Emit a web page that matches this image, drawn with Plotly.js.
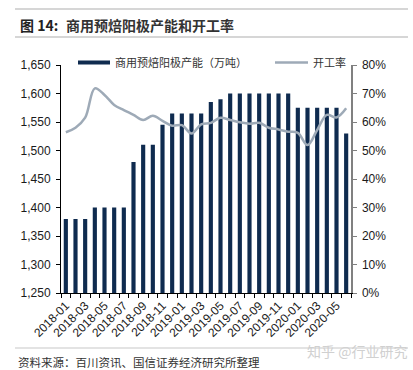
<!DOCTYPE html>
<html>
<head>
<meta charset="utf-8">
<script src="https://cdn.plot.ly/plotly-3.0.1.min.js"></script>
<style>
html,body{margin:0;padding:0;background:#fff;}
#chart{width:413px;height:370px;}
</style>
</head>
<body>
<div id="chart"></div>
<script>
const months = ["2018-01","2018-02","2018-03","2018-04","2018-05","2018-06","2018-07","2018-08","2018-09","2018-10","2018-11","2018-12",
"2019-01","2019-02","2019-03","2019-04","2019-05","2019-06","2019-07","2019-08","2019-09","2019-10","2019-11","2019-12",
"2020-01","2020-02","2020-03","2020-04","2020-05","2020-06"];
const capacity = [1380,1380,1380,1400,1400,1400,1400,1480,1510,1510,1545,1565,1565,1565,1565,1585,1590,1600,1600,1600,1600,1600,1600,1600,1575,1575,1575,1575,1575,1530];
const rate = [56.4,58.0,61.5,71.8,69.5,66.0,64.2,62.5,60.7,62.2,60.4,58.7,58.9,56.0,59.2,59.7,61.5,60.7,59.9,59.4,59.7,58.0,57.4,56.6,56.2,51.9,57.2,62.5,61.6,64.8];
const tickLabels = months.map((m,i)=> i%2===0 ? m : "");
const barName = "商用预焙阳极产能（万吨）";
const lineName = "开工率";
const titleNum = "图 14:";
const titleText = "商用预焙阳极产能和开工率";
const sourceText = "资料来源：百川资讯、国信证券经济研究所整理";
const watermark = "知乎 @行业研究";

const barColor = "#0f2b4f";
const lineColor = "#9eaab7";
const cjk = "Noto Sans CJK SC";
const latin = "Liberation Sans, Arial";

// pixel -> paper helpers (plot area: x 61..351, y 65..293)
const L=61, R=351, T=65, B=293;
const px = x => (x-L)/(R-L);
const py = y => (B-y)/(B-T);

const traces = [
  {type:"bar", x:months, y:capacity, name:barName, marker:{color:barColor}, yaxis:"y", showlegend:false, hoverinfo:"x+y"},
  {type:"scatter", mode:"lines", x:months, y:rate, name:lineName, yaxis:"y2",
   line:{color:lineColor, width:2.5, shape:"spline", smoothing:1}, showlegend:false}
];

const layout = {
  width:413, height:370,
  margin:{l:L, r:413-R, t:T, b:370-B},
  paper_bgcolor:"#fff", plot_bgcolor:"#fff",
  bargap:0.57,
  font:{family:latin, size:12, color:"#1a1a1a"},
  xaxis:{type:"category", tickvals:months, ticktext:tickLabels, tickangle:-45,
    ticks:"outside", tickson:"boundaries", ticklen:4, tickcolor:"#000",
    showline:true, linecolor:"#000", linewidth:1, showgrid:false, zeroline:false,
    tickfont:{family:latin, size:12, color:"#1a1a1a"}},
  yaxis:{range:[1250,1650], dtick:50, tickformat:",", ticks:"outside", ticklen:4, tickcolor:"#000",
    showline:true, linecolor:"#000", linewidth:1, showgrid:false, zeroline:false,
    ticklabelstandoff:3, tickfont:{family:latin, size:12, color:"#1a1a1a"}},
  yaxis2:{overlaying:"y", side:"right", range:[0,80], dtick:10, ticksuffix:"%",
    ticks:"outside", ticklen:4, tickcolor:"#808080",
    showline:true, linecolor:"#808080", linewidth:1.5, showgrid:false, zeroline:false,
    ticklabelstandoff:3, tickfont:{family:latin, size:12, color:"#1a1a1a"}},
  shapes:[
    {type:"line", xref:"paper", yref:"paper", x0:px(15), x1:px(408), y0:py(9), y1:py(9), line:{color:"#c8c8c8", width:1.5}},
    {type:"line", xref:"paper", yref:"paper", x0:px(15), x1:px(408), y0:py(37), y1:py(37), line:{color:"#c8c8c8", width:1.5}},
    {type:"line", xref:"paper", yref:"paper", x0:px(15), x1:px(408), y0:py(348), y1:py(348), line:{color:"#c8c8c8", width:1.2}},
    {type:"rect", xref:"paper", yref:"paper", x0:px(78), x1:px(110), y0:py(60.5), y1:py(64.5), fillcolor:barColor, line:{width:0}},
    {type:"line", xref:"paper", yref:"paper", x0:px(275), x1:px(308), y0:py(62.5), y1:py(62.5), line:{color:lineColor, width:2.5}}
  ],
  annotations:[
    {xref:"paper", yref:"paper", x:px(18), y:py(25), xanchor:"left", yanchor:"middle", showarrow:false,
     text:"<b>"+titleNum+"</b>", font:{family:cjk, size:14, color:"#222"}},
    {xref:"paper", yref:"paper", x:px(64), y:py(25), xanchor:"left", yanchor:"middle", showarrow:false,
     text:"<b>"+titleText+"</b>", font:{family:cjk, size:14, color:"#333"}},
    {xref:"paper", yref:"paper", x:px(113), y:py(62.5), xanchor:"left", yanchor:"middle", showarrow:false,
     text:barName, font:{family:cjk, size:11, color:"#333"}},
    {xref:"paper", yref:"paper", x:px(311), y:py(62.5), xanchor:"left", yanchor:"middle", showarrow:false,
     text:lineName, font:{family:cjk, size:11, color:"#333"}},
    {xref:"paper", yref:"paper", x:px(16), y:py(362), xanchor:"left", yanchor:"middle", showarrow:false,
     text:sourceText, font:{family:cjk, size:11.5, color:"#333"}},
    {xref:"paper", yref:"paper", x:px(409), y:py(351), xanchor:"right", yanchor:"middle", showarrow:false,
     text:watermark, font:{family:cjk, size:14, color:"#d0d0d0"}}
  ]
};

Plotly.newPlot("chart", traces, layout, {displayModeBar:false, staticPlot:true});
</script>
</body>
</html>
